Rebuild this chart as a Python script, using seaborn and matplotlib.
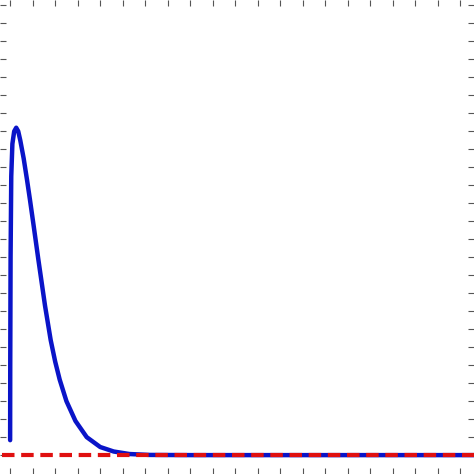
import matplotlib
matplotlib.use("Agg")
import matplotlib.pyplot as plt
import seaborn as sns
import pandas as pd

sns.set_theme(style="white")

x_vals = [0.0, 0.005, 0.02, 0.05, 0.1, 0.18, 0.27, 0.36, 0.45, 0.6, 0.75, 0.88, 1.05, 1.25, 1.4, 1.55, 1.8, 2.0, 2.2, 2.5, 2.9, 3.4, 4.0, 4.6, 5.3, 6.2, 8, 12, 16, 20.6]
y_vals = [0.83, 5.0, 11.0, 15.5, 17.3, 18.0, 18.2, 18.0, 17.5, 16.5, 15.3, 14.2, 12.7, 10.9, 9.6, 8.3, 6.4, 5.2, 4.2, 3.0, 1.9, 1.0, 0.45, 0.2, 0.06, 0.01, 0.0, 0.0, 0.0, 0.0]
ref_x = [-0.35, 20.6]
ref_y = [0.0, 0.0]

df = pd.DataFrame({"x": x_vals, "y": y_vals})

fig = plt.figure(figsize=(4.74, 4.74), dpi=100)
ax = fig.add_axes([0, 0, 1, 1])
sns.lineplot(data=df, x="x", y="y", ax=ax, color="#0a14c8", linewidth=3.2)
ax.plot(ref_x, ref_y, color="#e01010", linestyle=(0, (3, 1.6)), linewidth=3)
ax.set_xlim(-0.45, 20.6)
ax.set_ylim(-1.05, 25.3)
ax.set_xticks(range(0, 21))
ax.set_yticks(range(0, 26))
ax.set_xticklabels([])
ax.set_yticklabels([])
ax.set_xlabel("")
ax.set_ylabel("")
for s in ax.spines.values():
    s.set_visible(False)
ax.tick_params(direction="in", length=4, width=0.8, color="#555555",
               bottom=True, top=True, left=True, right=True)
fig.savefig("out.png", dpi=100)
